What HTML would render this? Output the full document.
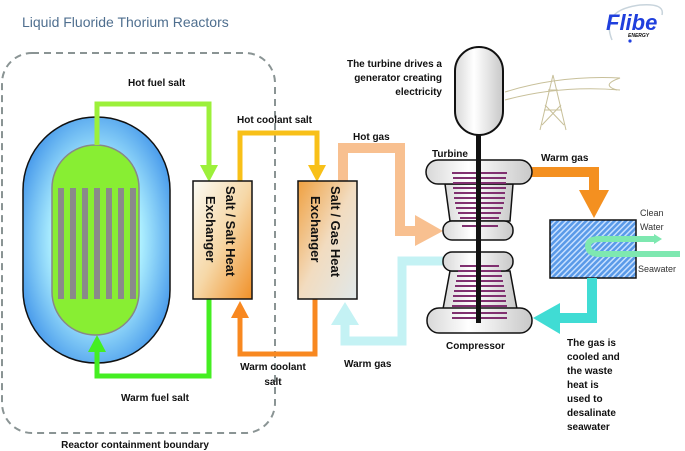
<!DOCTYPE html>
<html><head><meta charset="utf-8"><style>
body{margin:0;background:#fff}
svg{display:block}
text{font-family:"Liberation Sans",sans-serif;font-weight:bold;font-size:10px;fill:#111}
</style></head><body>
<svg width="685" height="451" viewBox="0 0 685 451">
<defs>
<radialGradient id="rb" cx="0.5" cy="0.5" r="0.6"><stop offset="0.5" stop-color="#aef0ff"/><stop offset="1" stop-color="#3a8ee8"/></radialGradient>
<linearGradient id="hx1" x1="0" y1="0" x2="1" y2="1"><stop offset="0" stop-color="#fbfbf4"/><stop offset="0.5" stop-color="#f6d8a8"/><stop offset="1" stop-color="#f09028"/></linearGradient>
<linearGradient id="hx2" x1="0" y1="0" x2="1" y2="1"><stop offset="0" stop-color="#f0a040"/><stop offset="0.5" stop-color="#f2dcc0"/><stop offset="1" stop-color="#e0e8ea"/></linearGradient>
<linearGradient id="ring" x1="0" y1="0" x2="1" y2="0"><stop offset="0" stop-color="#d8d8d8"/><stop offset="0.4" stop-color="#ffffff"/><stop offset="1" stop-color="#c8c8c8"/></linearGradient>
<pattern id="hatch" width="4" height="4" patternUnits="userSpaceOnUse" patternTransform="rotate(45)"><rect width="4" height="4" fill="#5a9ae8"/><rect width="1.5" height="4" fill="#c8e0ff"/></pattern>
</defs>

<text x="22" y="27" style="font-weight:normal;font-size:14px;fill:#4f6f8f">Liquid Fluoride Thorium Reactors</text>

<!-- logo -->
<path d="M612 40 Q600 10 640 5 Q665 3 662 15" fill="none" stroke="#c8d4dc" stroke-width="1.5"/>
<text x="606" y="30" style="font-size:22px;font-style:italic;fill:#1f3fdd;font-weight:bold">Flibe</text>
<text x="628" y="37" style="font-size:5px;font-style:italic">ENERGY</text>
<circle cx="630" cy="41" r="1.6" fill="#2040e0"/>

<!-- containment -->
<rect x="2" y="53" width="273" height="380" rx="30" fill="none" stroke="#8a9494" stroke-width="2" stroke-dasharray="7,5"/>

<!-- reactor -->
<rect x="23" y="117" width="147" height="246" rx="73" fill="url(#rb)" stroke="#111" stroke-width="1.5"/>
<rect x="52" y="145" width="87" height="190" rx="43" fill="#88ee33" stroke="#888" stroke-width="1.5"/>
<g fill="#8a8a8a">
<rect x="58" y="188" width="6" height="111"/><rect x="70" y="188" width="6" height="111"/><rect x="82" y="188" width="6" height="111"/><rect x="94" y="188" width="6" height="111"/><rect x="106" y="188" width="6" height="111"/><rect x="118" y="188" width="6" height="111"/><rect x="130" y="188" width="6" height="111"/>
</g>

<!-- hot fuel salt -->
<polyline points="97,145 97,104 209,104 209,167" fill="none" stroke="#9cf03a" stroke-width="5"/>
<polygon points="200,165 218,165 209,182" fill="#9cf03a"/>
<!-- warm fuel salt -->
<polyline points="209,299 209,376 97,376 97,350" fill="none" stroke="#44ee22" stroke-width="5"/>
<polygon points="88,352 106,352 97,335" fill="#44ee22"/>

<!-- hot coolant -->
<polyline points="240,181 240,133 317,133 317,167" fill="none" stroke="#f8c018" stroke-width="5"/>
<polygon points="308,165 326,165 317,182" fill="#f8c018"/>
<!-- warm coolant -->
<polyline points="315,299 315,354 240,354 240,316" fill="none" stroke="#f88820" stroke-width="5"/>
<polygon points="231,318 249,318 240,301" fill="#f88820"/>

<!-- hot gas -->
<polyline points="343,181 343,148 400,148 400,231 425,231" fill="none" stroke="#f8c090" stroke-width="10"/>
<polygon points="415,215 443,231 415,246" fill="#f8c090"/>
<!-- warm gas cyan -->
<polyline points="444,261 402,261 402,341 345,341 345,322" fill="none" stroke="#c4f2f4" stroke-width="9"/>
<polygon points="331,325 359,325 345,302" fill="#c4f2f4"/>

<!-- exchangers -->
<rect x="193" y="181" width="59" height="118" fill="url(#hx1)" stroke="#111" stroke-width="1.5"/>
<text transform="translate(226,186) rotate(90)" style="font-size:13px">Salt / Salt Heat</text>
<text transform="translate(206,196) rotate(90)" style="font-size:13px">Exchanger</text>
<rect x="298" y="181" width="59" height="118" fill="url(#hx2)" stroke="#111" stroke-width="1.5"/>
<text transform="translate(331,186) rotate(90)" style="font-size:13px">Salt / Gas Heat</text>
<text transform="translate(311,196) rotate(90)" style="font-size:13px">Exchanger</text>

<!-- pylon -->
<g fill="none" stroke="#c8c09a" stroke-width="1">
<path d="M505 92 Q560 75 620 78 Q600 85 617 90"/><path d="M505 100 Q560 85 620 90"/>
<path d="M540 130 L553 75 L566 130 M544 110 L562 110 M545 105 L564 125 M561 105 L542 125 M548 90 L558 90"/>
</g>

<!-- warm gas orange -->
<polyline points="530,172 594,172 594,195" fill="none" stroke="#f49020" stroke-width="10"/>
<polygon points="579,190 609,190 594,218" fill="#f49020"/>

<!-- turbine -->
<rect x="455" y="47" width="48" height="88" rx="24" fill="url(#ring)" stroke="#111" stroke-width="2"/>
<polygon points="445,184 513,184 510,221 450,221" fill="url(#ring)" stroke="#111" stroke-width="1.5"/>
<polygon points="450,271 510,271 517,309 443,309" fill="url(#ring)" stroke="#111" stroke-width="1.5"/>
<rect x="426" y="160" width="106" height="24" rx="12" fill="url(#ring)" stroke="#111" stroke-width="1.5"/>
<rect x="443" y="221" width="70" height="19" rx="9" fill="url(#ring)" stroke="#111" stroke-width="1.5"/>
<rect x="443" y="252" width="70" height="19" rx="9" fill="url(#ring)" stroke="#111" stroke-width="1.5"/>
<rect x="427" y="308" width="105" height="25" rx="12" fill="url(#ring)" stroke="#111" stroke-width="1.5"/>
<g stroke="#803070" stroke-width="2">
<line x1="452" y1="173" x2="507" y2="173"/><line x1="453" y1="178" x2="506" y2="178"/><line x1="453" y1="183" x2="506" y2="183"/><line x1="453" y1="188" x2="506" y2="188"/><line x1="454" y1="193" x2="505" y2="193"/><line x1="454" y1="198" x2="505" y2="198"/><line x1="455" y1="203" x2="504" y2="203"/><line x1="456" y1="208" x2="503" y2="208"/><line x1="458" y1="213" x2="501" y2="213"/><line x1="460" y1="218" x2="499" y2="218"/><line x1="462" y1="226" x2="498" y2="226"/>
<line x1="460" y1="266" x2="499" y2="266"/><line x1="458" y1="271" x2="501" y2="271"/><line x1="457" y1="276" x2="502" y2="276"/><line x1="456" y1="281" x2="503" y2="281"/><line x1="455" y1="286" x2="504" y2="286"/><line x1="454" y1="291" x2="505" y2="291"/><line x1="453" y1="296" x2="506" y2="296"/><line x1="453" y1="301" x2="506" y2="301"/><line x1="452" y1="306" x2="507" y2="306"/><line x1="452" y1="313" x2="507" y2="313"/><line x1="452" y1="318" x2="507" y2="318"/>
</g>
<rect x="476" y="135" width="5" height="188" fill="#111"/>

<!-- desal -->
<rect x="550" y="220" width="86" height="58" fill="url(#hatch)" stroke="#111" stroke-width="1.5"/>
<path d="M680 254 L600 254 Q588 254 588 246 Q588 239 600 239 L655 239" fill="none" stroke="#7ee8b0" stroke-width="6"/>
<polygon points="654,234 662,239 654,244" fill="#7ee8b0"/>
<polyline points="592,278 592,318 555,318" fill="none" stroke="#40dcd4" stroke-width="10"/>
<polygon points="560,303 560,334 533,318" fill="#40dcd4"/>

<!-- labels -->
<text x="128" y="86">Hot fuel salt</text>
<text x="237" y="123">Hot coolant salt</text>
<text x="353" y="140">Hot gas</text>
<text x="432" y="157">Turbine</text>
<text x="541" y="161">Warm gas</text>
<text x="442" y="67" text-anchor="end">The turbine drives a</text>
<text x="442" y="81" text-anchor="end">generator creating</text>
<text x="442" y="95" text-anchor="end">electricity</text>
<text x="640" y="216" style="font-weight:normal;font-size:9px;fill:#333">Clean</text>
<text x="640" y="230" style="font-weight:normal;font-size:9px;fill:#333">Water</text>
<text x="638" y="272" style="font-weight:normal;font-size:9px;fill:#333">Seawater</text>
<text x="446" y="349">Compressor</text>
<text x="344" y="367">Warm gas</text>
<text x="273" y="370" text-anchor="middle">Warm coolant</text>
<text x="273" y="385" text-anchor="middle">salt</text>
<text x="155" y="401" text-anchor="middle">Warm fuel salt</text>
<text x="135" y="448" text-anchor="middle">Reactor containment boundary</text>
<text x="567" y="346">The gas is</text>
<text x="567" y="360">cooled and</text>
<text x="567" y="374">the waste</text>
<text x="567" y="388">heat is</text>
<text x="567" y="402">used to</text>
<text x="567" y="416">desalinate</text>
<text x="567" y="430">seawater</text>
</svg>
</body></html>
